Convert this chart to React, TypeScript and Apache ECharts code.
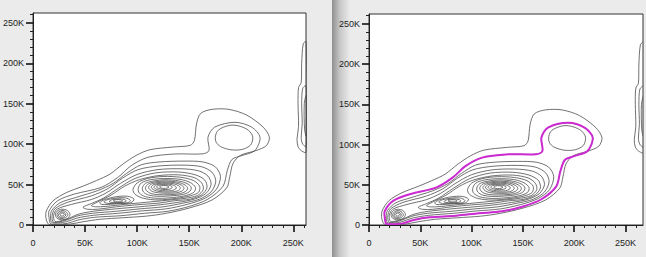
import React, { useEffect, useRef } from "react";
import * as echarts from "echarts";

// Axis values (in thousands)
const axisMax = 262.144;
const rightXMax = 267;
const majorTicks = [0, 50, 100, 150, 200, 250];
const minorTicks = [10, 20, 30, 40, 60, 70, 80, 90, 110, 120, 130, 140, 160, 170, 180, 190, 210, 220, 230, 240, 260];

// Contour lines [x(K), y(K)]
const contourL1 = [[15, 1], [12.5, 8], [12.8, 17.4], [19.2, 29.9], [32, 40], [48, 48], [61, 55], [74, 63], [86.5, 75.5], [99, 86], [112, 93], [135, 96.5], [151, 98.5], [155, 104.5], [157, 125], [161, 138], [172, 143], [188, 143], [205, 136], [221, 121], [227, 108.6], [224, 98], [214, 92], [199, 86], [192, 76], [189, 60], [186, 46], [172, 31], [150, 21], [128, 14.5], [109, 11], [86.5, 9], [64, 7], [48, 4], [35, 1], [22, 0.3]];
const contourL2 = [[17, 1.5], [15.4, 9], [15.4, 17.4], [23.5, 29.9], [39.6, 38.2], [65.3, 46.4], [81.4, 58.8], [94.3, 73.4], [110.3, 83.7], [136, 87.8], [163, 88], [169, 92], [168, 108.5], [174.4, 121], [194, 127], [210, 121], [218, 108.5], [213, 92], [200.5, 85.8], [191, 81], [186.5, 67], [182.5, 48], [168, 32], [150, 23], [129.6, 17], [107, 14.5], [84.5, 11.5], [58.9, 9.5], [42.8, 6], [33, 2], [23.5, 1]];
const contourTopInner = [[175, 108], [177, 116], [183, 121], [191, 123.5], [199, 122], [207, 117], [211, 109], [209, 99], [201, 93.5], [190, 93], [180, 97], [176, 102]];
const contourL3 = [[18, 3], [16.8, 10], [18, 18], [26, 27.5], [41, 34], [62, 42.5], [77, 51.5], [90, 64], [104, 74.5], [122, 78], [145, 79], [163, 78], [175, 72], [180, 60], [176, 44], [165, 33], [148, 25.5], [128, 20], [105, 17.5], [82, 14.5], [58, 12], [42, 8.5], [32, 4], [24, 2.5]];
const contourL4 = [[19.5, 3.5], [18.3, 11], [21, 20], [33, 28], [56, 36], [72, 45], [86, 58], [101, 68.5], [121, 73], [145, 74], [162, 72], [172, 65], [175.5, 54], [171, 41], [160, 32], [144, 27], [125, 22.5], [103, 20], [80, 17], [57, 14.5], [42, 11], [32, 6], [25, 3.8]];
const contourL5 = [[21, 4.5], [19.8, 12], [23, 19.5], [37, 25.5], [56, 31.5], [70, 39.5], [84, 51.5], [100, 62.5], [120, 68.5], [143, 69.5], [159, 67], [168, 60.5], [171, 50], [166, 39], [155, 32], [139, 28], [122, 25], [102, 22.5], [80, 20], [58, 17], [44, 13.5], [34, 8], [28, 5.5]];
const contourL6 = [[48, 22], [56, 26.5], [68, 33.5], [82, 45.5], [98, 57.5], [118, 64.5], [140, 65.5], [156, 62], [165, 55.5], [167, 46], [162, 37.5], [151, 32], [136, 30], [120, 27], [100, 25], [80, 22.5], [62, 19.5], [52, 19.5]];
const contourL7 = [[56, 24], [62, 28.5], [75, 37], [88, 48], [102, 56], [120, 61], [140, 62], [155, 58.5], [162, 52], [163.5, 44], [158, 36.5], [146, 33], [128, 30.5], [108, 28], [88, 25.5], [70, 23], [60, 22.5]];
const thirdL6 = [[21.5, 12.5], [23, 17], [27.5, 19.5], [33, 18], [35.5, 13], [33, 8], [27, 6.5], [23, 8.5]];
const thirdL7 = [[23, 12.5], [24.5, 16], [28, 18], [31.5, 16.5], [33.5, 12.5], [31, 9], [27, 8], [24, 9.5]];
const thirdL8 = [[24.5, 12.5], [25.5, 15], [28, 16.3], [30.5, 15], [31.5, 12.5], [30, 10], [27, 9.5], [25, 10.5]];
const thirdL9 = [[26, 12.8], [27, 14.5], [29, 14.6], [30, 12.8], [28.5, 11.2], [26.8, 11.3]];
const secondL8 = [[64, 27.5], [69, 31.5], [80, 35], [91, 35.5], [97, 32], [94, 27.5], [84, 26.5], [72, 25.5], [66, 25.5]];
const secondL9 = [[68, 28.5], [72, 31.5], [81, 33.5], [89, 33.5], [93.5, 30.5], [91, 27.5], [83, 27], [73, 26.5]];
const secondL10 = [[73, 29], [76.5, 31.5], [83, 32.3], [88, 31.5], [89.5, 29.5], [86.5, 28], [80, 27.8], [75, 28]];
const secondL11 = [[77, 30], [80, 31.3], [84, 31.2], [86, 29.8], [83.5, 28.8], [79, 28.8]];
const mainL8 = [[96, 44], [100, 52], [110, 57.5], [125, 60], [142, 59], [154, 55], [160, 48], [159, 40.5], [151, 36], [138, 33], [120, 31], [106, 33], [98, 38]];
const mainL9 = [[101, 45], [104, 52], [113, 56], [126, 57.5], [141, 56.5], [151, 52.5], [156, 46.5], [154.5, 40.5], [147, 36.5], [135, 34], [120, 33], [108, 35], [102, 39.5]];
const mainL10 = [[105, 46], [108, 51.5], [116, 54.5], [127, 56], [140, 54.5], [149, 50.5], [152, 46], [150, 41], [143, 37.5], [132, 36], [120, 35.5], [111, 37], [106, 41]];
const mainL11 = [[108, 46.5], [111, 51], [118, 53.5], [128, 54.5], [139, 53], [146, 49.5], [148.5, 45.5], [146.5, 41.5], [140, 38.5], [131, 37.5], [120, 37.5], [113, 39], [109, 42.5]];
const mainL12 = [[111, 47], [113.5, 50.5], [119.5, 52.5], [128, 53.2], [137, 52], [143, 49], [145, 45.5], [143, 42], [137.5, 39.8], [129, 39.3], [120.5, 39.8], [115, 41.2], [112, 44]];
const mainL13 = [[113.5, 47], [116, 50], [121, 51.5], [128, 52], [135, 51], [140, 48.5], [141.5, 45.5], [139.5, 42.5], [134.5, 41], [127.5, 40.8], [121, 41.5], [116.5, 43], [114.3, 45]];
const mainL14 = [[116, 47], [118.5, 49.7], [123, 50.6], [129, 50.8], [134, 49.5], [137.5, 47], [137, 44.5], [133, 42.5], [127, 42.3], [121.5, 43], [117.5, 44.8]];
const mainL15 = [[118.5, 47], [120.5, 49], [125, 49.8], [130, 49.4], [133.5, 47.5], [133, 45.3], [129.5, 44], [124.5, 44], [120.5, 45.3]];
const mainL16 = [[121.5, 47], [123.5, 48.5], [127, 48.8], [130, 47.8], [130, 46.2], [127, 45.3], [123.5, 45.5]];
// Edge population at the far right (left panel)
const stripOuter = [[262.3, 227], [259.5, 224], [258, 200], [257.5, 176], [255, 170], [254.5, 150], [255, 122], [253.5, 106], [254.5, 97], [257.5, 92], [262.3, 90]];
const stripMid = [[262.3, 172], [259, 169], [258, 150], [258.5, 125], [257.5, 108], [259, 100], [262.3, 97]];
const stripInner = [[262.3, 160], [260.5, 150], [260.8, 118], [262.3, 110]];
// Edge population at the far right (right panel, wider axis)
const stripOuterR = [[267.5, 227], [264.5, 224], [263, 200], [262.5, 176], [260, 170], [259.5, 150], [260, 122], [258.5, 106], [259.5, 97], [262.5, 92], [267.5, 90]];
const stripMidR = [[267.5, 172], [264, 169], [263, 150], [263.5, 125], [262.5, 108], [264, 100], [267.5, 97]];
const stripInnerR = [[267.5, 160], [265.5, 150], [265.8, 118], [267.5, 110]];

// Gate drawn in the right panel
const gateContour = contourL2;

const bodyContours = [
  contourL1, contourL2, contourTopInner, contourL3, contourL4, contourL5, contourL6, contourL7,
  thirdL6, thirdL7, thirdL8, thirdL9, secondL8, secondL9, secondL10, secondL11,
  mainL8, mainL9, mainL10, mainL11, mainL12, mainL13, mainL14, mainL15, mainL16,
];
const leftContours = [...bodyContours, stripOuter, stripMid, stripInner];
const rightContours = [...bodyContours, stripOuterR, stripMidR, stripInnerR];

const fmt = (v: number) => (v === 0 ? "0" : `${v}K`);
const labelStyle = { fontFamily: "Liberation Sans, Arial, sans-serif", fontSize: 9, color: "#222" };

function axesFor(gridIndex: number, dim: "x" | "y", max: number) {
  const pos = dim === "x" ? "bottom" : "left";
  const major = {
    type: "value", gridIndex, min: 0, max, interval: 50, position: pos,
    axisLine: { show: true, lineStyle: { color: "#222", width: 1 } },
    axisTick: { show: true, length: 7, customValues: majorTicks, lineStyle: { color: "#111", width: 1.6 } },
    axisLabel: { show: true, customValues: majorTicks, formatter: fmt, margin: dim === "x" ? 13 : 9, showMaxLabel: true, ...labelStyle },
    splitLine: { show: false },
  };
  const minor = {
    type: "value", gridIndex, min: 0, max, interval: 10, position: pos,
    axisLine: { show: false },
    axisTick: { show: true, length: 3, customValues: minorTicks, lineStyle: { color: "#222", width: 1 } },
    axisLabel: { show: false },
    splitLine: { show: false },
  };
  return [major, minor];
}

function contourSeries(shapes: number[][][], xi: number, yi: number, color: string, width: number, z: number) {
  return {
    type: "custom", coordinateSystem: "cartesian2d", xAxisIndex: xi, yAxisIndex: yi,
    clip: true, silent: true, z,
    data: shapes.map((_, i) => [i, 0]),
    renderItem: (params: any, api: any) => {
      const pts = shapes[params.dataIndex].map((p) => api.coord(p));
      return {
        type: "polygon",
        shape: { points: pts, smooth: 0.3 },
        style: { fill: "none", stroke: color, lineWidth: width },
      };
    },
  };
}

export default function App() {
  const ref = useRef<HTMLDivElement>(null);
  useEffect(() => {
    document.body.style.margin = "0";
    const chart = echarts.init(ref.current!, null, { renderer: "svg" });
    const [lx0, lx1] = axesFor(0, "x", axisMax);
    const [ly0, ly1] = axesFor(0, "y", axisMax);
    const [rx0, rx1] = axesFor(1, "x", rightXMax);
    const [ry0, ry1] = axesFor(1, "y", axisMax);
    chart.setOption({
      animation: false,
      backgroundColor: "#ebebeb",
      grid: [
        { left: 33, top: 13, width: 273, height: 212, show: true, backgroundColor: "#fff", borderColor: "#333", borderWidth: 1 },
        { left: 369, top: 14, width: 274, height: 211, show: true, backgroundColor: "#fff", borderColor: "#333", borderWidth: 1 },
      ],
      xAxis: [lx0, lx1, rx0, rx1],
      yAxis: [ly0, ly1, ry0, ry1],
      graphic: [
        {
          type: "rect", z: -10, silent: true,
          shape: { x: 332, y: 0, width: 18, height: 257 },
          style: {
            fill: {
              type: "linear", x: 0, y: 0, x2: 1, y2: 0,
              colorStops: [
                { offset: 0, color: "#8f8f8f" },
                { offset: 0.45, color: "#c8c8c8" },
                { offset: 1, color: "#ebebeb" },
              ],
            },
          },
        },
      ],
      series: [
        contourSeries(leftContours, 0, 0, "#4d4d4d", 0.8, 2),
        contourSeries(rightContours, 2, 2, "#4d4d4d", 0.8, 2),
        contourSeries([gateContour], 2, 2, "#cc2bd2", 2, 3),
      ],
    });
    return () => chart.dispose();
  }, []);
  return <div ref={ref} style={{ width: 646, height: 257 }} />;
}
